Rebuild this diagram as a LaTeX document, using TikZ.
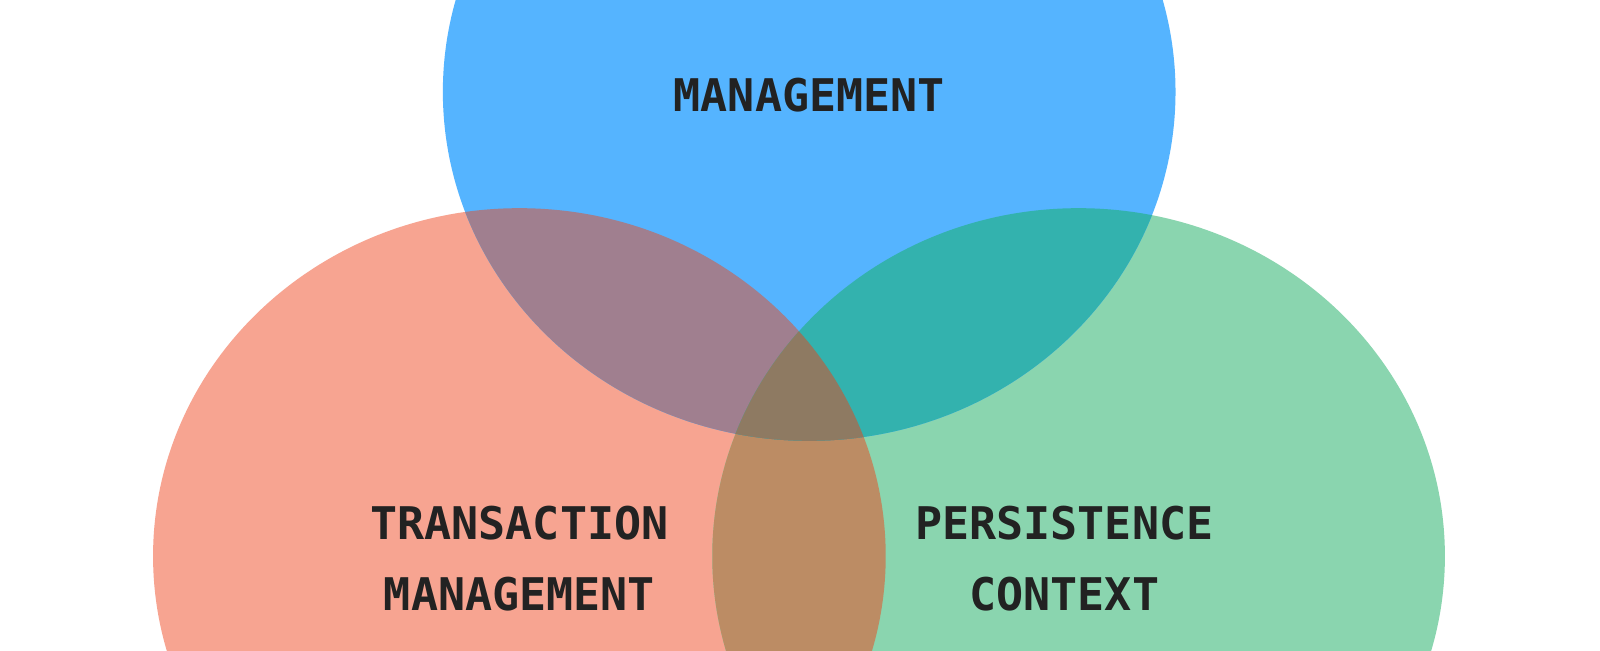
\documentclass[tikz,border=0pt]{standalone}
\usepackage{fontspec}
\setmonofont{DejaVu Sans Mono}
\definecolor{cB}{HTML}{55B4FF}
\definecolor{cR}{HTML}{F7A491}
\definecolor{cG}{HTML}{8AD5AF}
\definecolor{cRG}{HTML}{BC8C64}
\definecolor{cRB}{HTML}{A07F8F}
\definecolor{cGB}{HTML}{33B2AE}
\definecolor{cRGB}{HTML}{8E7A62}
\definecolor{txt}{HTML}{222222}
\begin{document}
\begin{tikzpicture}[x=1.0204pt,y=-1.0204pt,
  lbl/.style={font=\ttfamily\bfseries\fontsize{45}{71}\selectfont,text=txt,align=center}]
\fill[white] (0,0) rectangle (1568,637);
\begin{scope}
\clip (0,0) rectangle (1568,637);
\def\B{(793,90) ellipse [x radius=359,y radius=342]}
\def\R{(509,545) ellipse [x radius=359,y radius=341]}
\def\G{(1057,545) ellipse [x radius=359,y radius=341]}
\fill[cR] \R; \fill[cG] \G; \fill[cB] \B;
\begin{scope}\clip \R; \fill[cRG] \G; \fill[cRB] \B; \clip \G; \fill[cRGB] \B;\end{scope}
\begin{scope}\clip \G; \clip \B; \fill[cGB] (0,0) rectangle (1600,650);
\clip \R; \fill[cRGB] (0,0) rectangle (1600,650);\end{scope}
\end{scope}
\node[lbl] (m) at (793,93) {MANAGEMENT};
\node[lbl] (t) at (509,547) {TRANSACTION\\MANAGEMENT};
\node[lbl] (p) at (1043,547) {PERSISTENCE\\CONTEXT};
\useasboundingbox (0,0) rectangle (1568,637);
\end{tikzpicture}
\end{document}
